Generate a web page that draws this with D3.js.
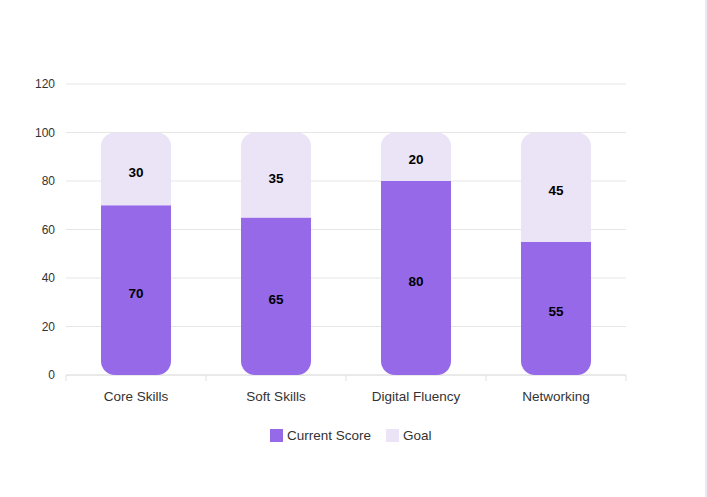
<!DOCTYPE html>
<html>
<head>
<meta charset="utf-8">
<script src="https://cdn.jsdelivr.net/npm/d3@7"></script>
<style>
  body { margin: 0; background: #fff; font-family: Arial, "Liberation Sans", sans-serif; }
  #wrap { position: relative; width: 707px; height: 497px; }
  #edge { position: absolute; left: 705px; top: 0; width: 2px; height: 497px; background: #ece8f8; }
</style>
</head>
<body>
<div id="wrap"><svg id="chart" width="705" height="497"></svg><div id="edge"></div></div>
<script>
// chart data
var categories = ["Core Skills", "Soft Skills", "Digital Fluency", "Networking"];
var currentScore = [70, 65, 80, 55];
var goal = [30, 35, 20, 45];
var yTicks = [0, 20, 40, 60, 80, 100, 120];
var seriesNames = ["Current Score", "Goal"];
var colors = ["#9669e8", "#ebe4f7"];

var svg = d3.select("#chart"),
    margin = {top: 84, left: 66},
    width = 560,
    height = 291;

var g = svg.append("g").attr("transform", "translate(" + margin.left + "," + margin.top + ")");

var x = d3.scaleBand().domain(categories).range([0, width]).padding(0);
var y = d3.scaleLinear().domain([0, 120]).range([height, 0]);
var barW = 70, r = 14;

// grid
g.append("g").selectAll("line").data(yTicks).enter().append("line")
  .attr("x1", 0).attr("x2", width)
  .attr("y1", function(d) { return y(d); }).attr("y2", function(d) { return y(d); })
  .attr("stroke", "#e6e6e6").attr("stroke-width", 1);

// y labels
g.append("g").selectAll("text").data(yTicks).enter().append("text")
  .attr("x", -11).attr("y", function(d) { return y(d); }).attr("dy", "0.35em")
  .attr("text-anchor", "end").attr("font-size", 12).attr("fill", "#333")
  .text(function(d) { return d; });

// x axis ticks
var edges = categories.map(function(c) { return x(c); }).concat([width]);
g.append("g").selectAll("line").data(edges).enter().append("line")
  .attr("x1", function(d) { return d; }).attr("x2", function(d) { return d; })
  .attr("y1", height).attr("y2", height + 6)
  .attr("stroke", "#e0e0e0");
g.append("line").attr("x1", 0).attr("x2", width).attr("y1", height).attr("y2", height)
  .attr("stroke", "#e0e0e0");

g.append("g").selectAll("text").data(categories).enter().append("text")
  .attr("x", function(d) { return x(d) + x.bandwidth() / 2; })
  .attr("y", height + 26)
  .attr("text-anchor", "middle").attr("font-size", 13.5).attr("fill", "#333")
  .text(function(d) { return d; });

// rounded-end rect path
function roundedRect(x0, y0, w, h, top, bottom) {
  var p = d3.path();
  var rt = top ? Math.min(r, h) : 0, rb = bottom ? Math.min(r, h) : 0;
  p.moveTo(x0 + rt, y0);
  p.lineTo(x0 + w - rt, y0);
  if (rt) p.arcTo(x0 + w, y0, x0 + w, y0 + rt, rt);
  p.lineTo(x0 + w, y0 + h - rb);
  if (rb) p.arcTo(x0 + w, y0 + h, x0 + w - rb, y0 + h, rb);
  p.lineTo(x0 + rb, y0 + h);
  if (rb) p.arcTo(x0, y0 + h, x0, y0 + h - rb, rb);
  p.lineTo(x0, y0 + rt);
  if (rt) p.arcTo(x0, y0, x0 + rt, y0, rt);
  p.closePath();
  return p.toString();
}

categories.forEach(function(c, i) {
  var bx = x(c) + (x.bandwidth() - barW) / 2;
  var cur = currentScore[i], gl = goal[i];
  g.append("path")
    .attr("d", roundedRect(bx, y(cur), barW, y(0) - y(cur), false, true))
    .attr("fill", colors[0]);
  g.append("path")
    .attr("d", roundedRect(bx, y(cur + gl), barW, y(cur) - y(cur + gl), true, false))
    .attr("fill", colors[1]);
  g.append("text")
    .attr("x", bx + barW / 2).attr("y", (y(0) + y(cur)) / 2 + 3).attr("dy", "0.35em")
    .attr("text-anchor", "middle").attr("font-size", 13.5).attr("font-weight", "bold").attr("fill", "#000")
    .text(cur);
  g.append("text")
    .attr("x", bx + barW / 2).attr("y", (y(cur) + y(cur + gl)) / 2 + 3).attr("dy", "0.35em")
    .attr("text-anchor", "middle").attr("font-size", 13.5).attr("font-weight", "bold").attr("fill", "#000")
    .text(gl);
});

// legend
var legX = [270, 386];
var leg = svg.append("g").attr("transform", "translate(0,429)");
seriesNames.forEach(function(s, i) {
  leg.append("rect").attr("x", legX[i]).attr("y", 0).attr("width", 13).attr("height", 13).attr("fill", colors[i]);
  leg.append("text").attr("x", legX[i] + 17).attr("y", 6.5).attr("dy", "0.35em")
    .attr("font-size", 13.5).attr("fill", "#333").text(s);
});
</script>
</body>
</html>
